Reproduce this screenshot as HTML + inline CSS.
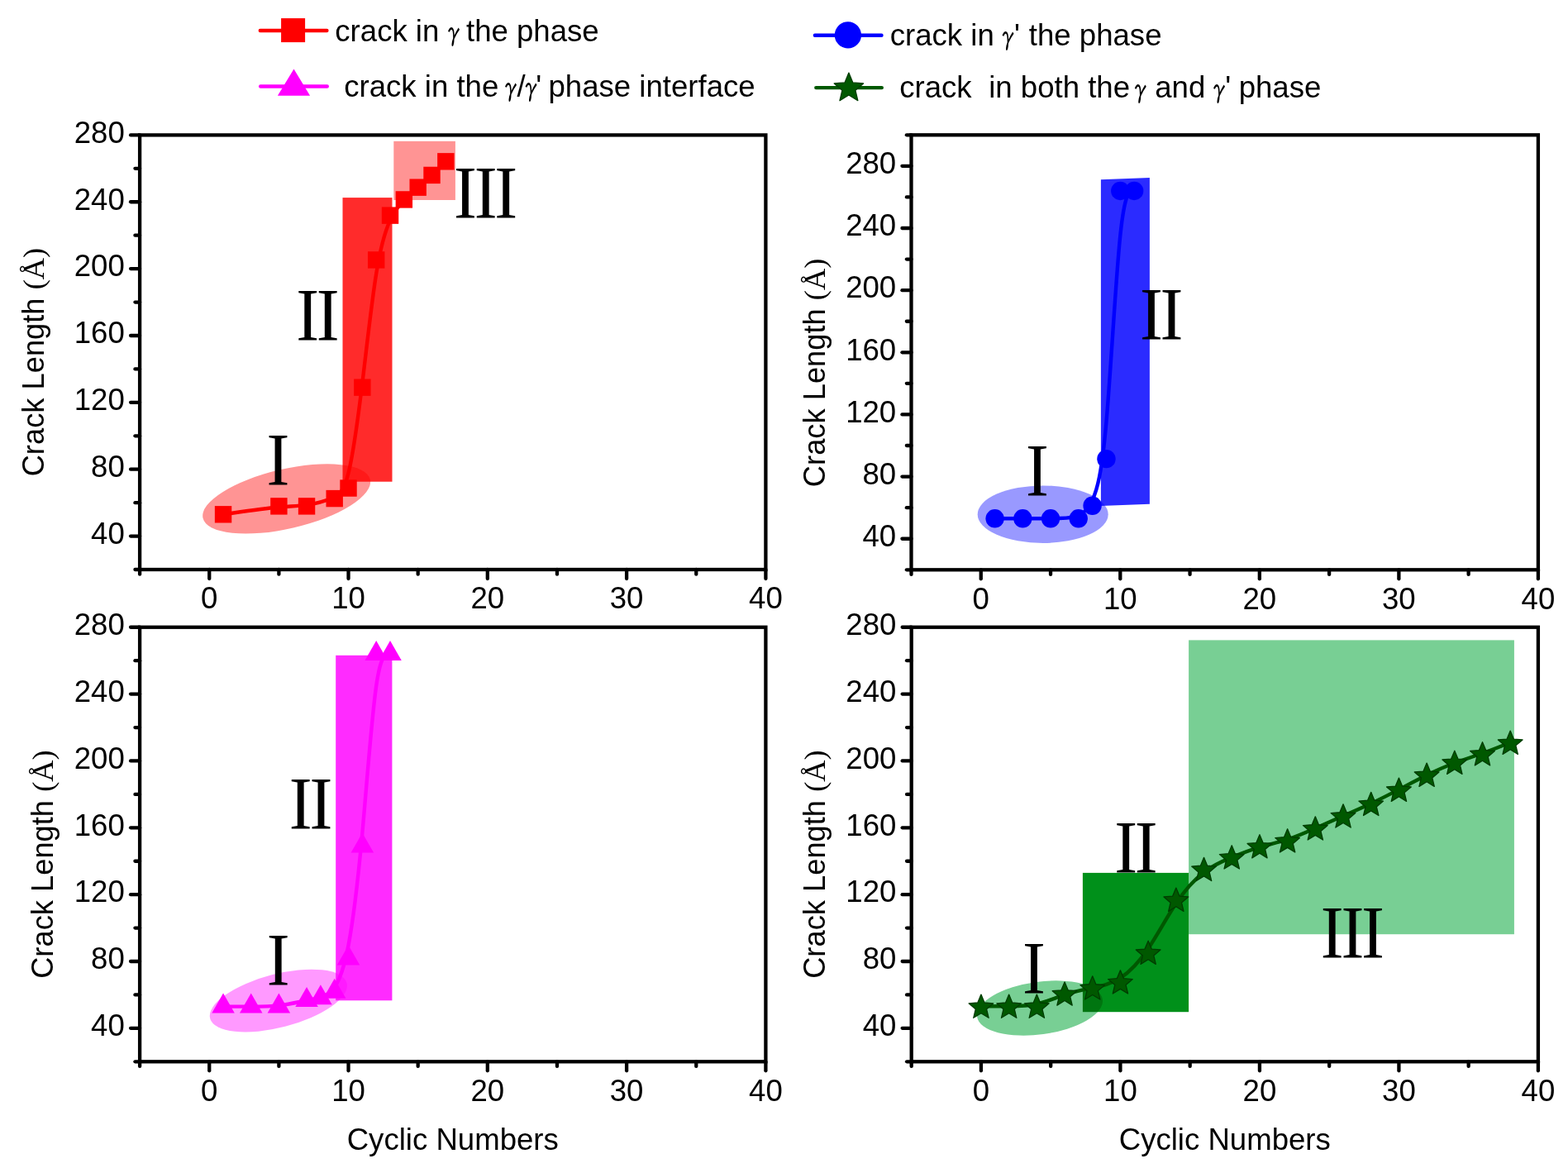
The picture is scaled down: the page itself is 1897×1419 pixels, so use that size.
<!DOCTYPE html>
<html><head><meta charset="utf-8"><title>Crack length vs cyclic numbers</title><style>html,body{margin:0;padding:0;background:#fff;}svg{display:block;}</style></head><body>
<svg width="1897" height="1419" viewBox="0 0 1897 1419">
<rect width="1897" height="1419" fill="#fff"/>
<g>
<ellipse cx="346.65" cy="603.45" rx="103.8" ry="36.0" transform="rotate(-13 346.65 603.45)" fill="#ff0000" fill-opacity="0.42" style="mix-blend-mode:multiply"/>
<rect x="414.5" y="239.1" width="60" height="343.6" fill="#ff0000" fill-opacity="0.83"/>
<rect x="476.3" y="170.8" width="74.6" height="71.2" fill="#ff0000" fill-opacity="0.42"/>
<path d="M270.07,622.29 C292.51,618.99 314.95,615.69 331.78,614.03 C348.61,612.38 359.83,612.38 371.05,610.83 C382.27,609.28 393.49,606.18 401.90,602.55 C410.31,598.91 415.92,594.73 421.53,572.32 C427.14,549.92 432.75,509.29 438.36,463.26 C443.97,417.24 449.58,365.82 455.19,331.15 C460.80,296.48 466.41,278.56 472.02,266.40 C477.63,254.23 483.24,247.83 488.85,242.17 C494.46,236.51 500.07,231.59 505.68,226.67 C511.29,221.76 516.90,216.84 522.51,211.61 C528.12,206.39 533.73,200.87 539.34,195.34" fill="none" stroke="#ff0000" stroke-width="4.4"/>
<rect x="259.87" y="612.09" width="20.40" height="20.40" fill="#ff0000"/>
<rect x="327.19" y="602.18" width="20.40" height="20.40" fill="#ff0000"/>
<rect x="360.85" y="602.18" width="20.40" height="20.40" fill="#ff0000"/>
<rect x="394.50" y="592.88" width="20.40" height="20.40" fill="#ff0000"/>
<rect x="411.33" y="580.35" width="20.40" height="20.40" fill="#ff0000"/>
<rect x="428.16" y="458.45" width="20.40" height="20.40" fill="#ff0000"/>
<rect x="444.99" y="304.21" width="20.40" height="20.40" fill="#ff0000"/>
<rect x="461.82" y="250.44" width="20.40" height="20.40" fill="#ff0000"/>
<rect x="478.65" y="231.23" width="20.40" height="20.40" fill="#ff0000"/>
<rect x="495.48" y="216.47" width="20.40" height="20.40" fill="#ff0000"/>
<rect x="512.31" y="201.72" width="20.40" height="20.40" fill="#ff0000"/>
<rect x="529.14" y="185.14" width="20.40" height="20.40" fill="#ff0000"/>
<text transform="translate(549.09,263.50) scale(0.93,1)" font-family='"Liberation Serif", "Times New Roman", serif' font-size="90.0" letter-spacing="-3.5" fill="#000">III</text>
<text transform="translate(358.19,411.80) scale(0.93,1)" font-family='"Liberation Serif", "Times New Roman", serif' font-size="90.0" letter-spacing="-3.5" fill="#000">II</text>
<text transform="translate(322.49,587.30) scale(0.93,1)" font-family='"Liberation Serif", "Times New Roman", serif' font-size="90.0" letter-spacing="-3.5" fill="#000">I</text>
</g>
<ellipse cx="1261.7" cy="622.2" rx="79" ry="34.8" fill="#0000ff" fill-opacity="0.40" style="mix-blend-mode:multiply"/>
<polygon points="1331.9,217.3 1390.9,215.1 1390.9,609.7 1331.9,612.1" fill="#0000ff" fill-opacity="0.83"/>
<path d="M1203.62,627.31 C1214.86,627.31 1226.09,627.31 1237.33,627.31 C1248.56,627.31 1259.80,627.31 1271.03,627.31 C1282.27,627.31 1293.50,627.31 1301.93,624.71 C1310.36,622.11 1315.98,616.91 1321.59,604.89 C1327.21,592.87 1332.83,574.02 1338.45,510.55 C1344.06,447.09 1349.68,339.01 1355.30,284.97 C1360.92,230.93 1366.54,230.93 1372.15,230.93" fill="none" stroke="#0000ff" stroke-width="4.4"/>
<circle cx="1203.62" cy="627.31" r="11.20" fill="#0000ff"/>
<circle cx="1237.33" cy="627.31" r="11.20" fill="#0000ff"/>
<circle cx="1271.03" cy="627.31" r="11.20" fill="#0000ff"/>
<circle cx="1304.74" cy="627.31" r="11.20" fill="#0000ff"/>
<circle cx="1321.59" cy="611.71" r="11.20" fill="#0000ff"/>
<circle cx="1338.45" cy="555.17" r="11.20" fill="#0000ff"/>
<circle cx="1355.30" cy="230.93" r="11.20" fill="#0000ff"/>
<circle cx="1372.15" cy="230.93" r="11.20" fill="#0000ff"/>
<text transform="translate(1378.89,411.30) scale(0.93,1)" font-family='"Liberation Serif", "Times New Roman", serif' font-size="90.0" letter-spacing="-3.5" fill="#000">II</text>
<text transform="translate(1240.99,600.00) scale(0.93,1)" font-family='"Liberation Serif", "Times New Roman", serif' font-size="90.0" letter-spacing="-3.5" fill="#000">I</text>
<text transform="translate(349.79,1003.20) scale(0.93,1)" font-family='"Liberation Serif", "Times New Roman", serif' font-size="90.0" letter-spacing="-3.5" fill="#000">II</text>
<text transform="translate(322.69,1191.80) scale(0.93,1)" font-family='"Liberation Serif", "Times New Roman", serif' font-size="90.0" letter-spacing="-3.5" fill="#000">I</text>
<rect x="406.2" y="792.8" width="68.2" height="417.5" fill="#ff00ff" fill-opacity="0.83"/>
<path d="M270.07,1217.60 C281.29,1217.60 292.51,1217.60 303.73,1217.60 C314.95,1217.60 326.17,1217.60 337.39,1216.32 C348.61,1215.04 359.83,1212.47 368.24,1210.76 C376.66,1209.04 382.27,1208.16 387.88,1206.48 C393.49,1204.79 399.09,1202.30 404.70,1194.32 C410.31,1186.33 415.92,1172.86 421.53,1143.48 C427.14,1114.10 432.75,1068.82 438.36,1007.44 C443.97,946.06 449.58,868.58 455.19,829.83 C460.80,791.09 466.41,791.09 472.02,791.09" fill="none" stroke="#ff00ff" stroke-width="4.4"/>
<polygon points="270.07,1201.60 283.82,1225.60 256.32,1225.60" fill="#ff00ff"/>
<polygon points="303.73,1201.60 317.48,1225.60 289.98,1225.60" fill="#ff00ff"/>
<polygon points="337.39,1201.60 351.14,1225.60 323.64,1225.60" fill="#ff00ff"/>
<polygon points="371.05,1193.91 384.80,1217.91 357.30,1217.91" fill="#ff00ff"/>
<polygon points="387.88,1191.29 401.63,1215.29 374.13,1215.29" fill="#ff00ff"/>
<polygon points="404.70,1183.81 418.45,1207.81 390.95,1207.81" fill="#ff00ff"/>
<polygon points="421.53,1143.38 435.28,1167.38 407.78,1167.38" fill="#ff00ff"/>
<polygon points="438.36,1007.55 452.11,1031.55 424.61,1031.55" fill="#ff00ff"/>
<polygon points="455.19,775.09 468.94,799.09 441.44,799.09" fill="#ff00ff"/>
<polygon points="472.02,775.09 485.77,799.09 458.27,799.09" fill="#ff00ff"/>
<ellipse cx="336.85" cy="1210.6" rx="85.4" ry="32.3" transform="rotate(-14.5 336.85 1210.6)" fill="#ff00ff" fill-opacity="0.40" style="mix-blend-mode:multiply"/>
<rect x="1438.1" y="774.4" width="393.8" height="355.8" fill="#78cf94"/>
<rect x="1309.9" y="1055.9" width="128.2" height="168.3" fill="#00901a"/>
<ellipse cx="1258" cy="1219.5" rx="76.6" ry="31.8" transform="rotate(-7.8 1258 1219.5)" fill="#78cf94" style="mix-blend-mode:multiply"/>
<path d="M1186.94,1217.19 C1198.18,1217.19 1209.41,1217.19 1220.64,1217.19 C1231.87,1217.19 1243.11,1217.19 1254.34,1214.66 C1265.57,1212.14 1276.81,1207.08 1288.04,1203.38 C1299.27,1199.67 1310.50,1197.31 1321.74,1194.96 C1332.97,1192.60 1344.20,1190.24 1355.43,1183.13 C1366.67,1176.02 1377.90,1164.16 1389.13,1147.56 C1400.36,1130.95 1411.60,1109.59 1422.83,1092.78 C1434.06,1075.97 1445.29,1063.70 1456.53,1055.15 C1467.76,1046.59 1478.99,1041.74 1490.22,1037.12 C1501.46,1032.51 1512.69,1028.13 1523.92,1024.79 C1535.15,1021.46 1546.39,1019.17 1557.62,1015.53 C1568.85,1011.89 1580.09,1006.90 1591.32,1001.92 C1602.55,996.93 1613.78,991.95 1625.02,987.03 C1636.25,982.11 1647.48,977.26 1658.71,971.97 C1669.95,966.68 1681.18,960.95 1692.41,955.09 C1703.64,949.23 1714.88,943.23 1726.11,937.74 C1737.34,932.25 1748.57,927.26 1759.81,923.02 C1771.04,918.77 1782.27,915.27 1793.50,911.26 C1804.74,907.25 1815.97,902.74 1827.20,898.22" fill="none" stroke="#005800" stroke-width="4.4"/>
<polygon points="1186.94,1203.08 1191.07,1213.00 1201.78,1213.86 1193.62,1220.85 1196.11,1231.30 1186.94,1225.70 1177.77,1231.30 1180.27,1220.85 1172.11,1213.86 1182.82,1213.00" fill="#005800" stroke="#003c00" stroke-width="1.3" stroke-linejoin="round"/>
<polygon points="1220.64,1203.08 1224.77,1213.00 1235.48,1213.86 1227.32,1220.85 1229.81,1231.30 1220.64,1225.70 1211.47,1231.30 1213.97,1220.85 1205.81,1213.86 1216.52,1213.00" fill="#005800" stroke="#003c00" stroke-width="1.3" stroke-linejoin="round"/>
<polygon points="1254.34,1203.08 1258.47,1213.00 1269.18,1213.86 1261.02,1220.85 1263.51,1231.30 1254.34,1225.70 1245.17,1231.30 1247.66,1220.85 1239.50,1213.86 1250.21,1213.00" fill="#005800" stroke="#003c00" stroke-width="1.3" stroke-linejoin="round"/>
<polygon points="1288.04,1187.92 1292.16,1197.84 1302.87,1198.70 1294.71,1205.69 1297.21,1216.14 1288.04,1210.54 1278.87,1216.14 1281.36,1205.69 1273.20,1198.70 1283.91,1197.84" fill="#005800" stroke="#003c00" stroke-width="1.3" stroke-linejoin="round"/>
<polygon points="1321.74,1180.85 1325.86,1190.77 1336.57,1191.63 1328.41,1198.62 1330.91,1209.07 1321.74,1203.47 1312.57,1209.07 1315.06,1198.62 1306.90,1191.63 1317.61,1190.77" fill="#005800" stroke="#003c00" stroke-width="1.3" stroke-linejoin="round"/>
<polygon points="1355.43,1173.77 1359.56,1183.69 1370.27,1184.55 1362.11,1191.54 1364.60,1201.99 1355.43,1196.39 1346.26,1201.99 1348.76,1191.54 1340.60,1184.55 1351.31,1183.69" fill="#005800" stroke="#003c00" stroke-width="1.3" stroke-linejoin="round"/>
<polygon points="1389.13,1138.20 1393.26,1148.12 1403.97,1148.98 1395.81,1155.97 1398.30,1166.42 1389.13,1160.82 1379.96,1166.42 1382.45,1155.97 1374.29,1148.98 1385.00,1148.12" fill="#005800" stroke="#003c00" stroke-width="1.3" stroke-linejoin="round"/>
<polygon points="1422.83,1074.12 1426.96,1084.04 1437.67,1084.90 1429.51,1091.89 1432.00,1102.34 1422.83,1096.74 1413.66,1102.34 1416.15,1091.89 1407.99,1084.90 1418.70,1084.04" fill="#005800" stroke="#003c00" stroke-width="1.3" stroke-linejoin="round"/>
<polygon points="1456.53,1037.33 1460.65,1047.25 1471.36,1048.11 1463.20,1055.10 1465.70,1065.55 1456.53,1059.95 1447.36,1065.55 1449.85,1055.10 1441.69,1048.11 1452.40,1047.25" fill="#005800" stroke="#003c00" stroke-width="1.3" stroke-linejoin="round"/>
<polygon points="1490.22,1022.78 1494.35,1032.70 1505.06,1033.56 1496.90,1040.55 1499.39,1051.00 1490.22,1045.40 1481.05,1051.00 1483.55,1040.55 1475.39,1033.56 1486.10,1032.70" fill="#005800" stroke="#003c00" stroke-width="1.3" stroke-linejoin="round"/>
<polygon points="1523.92,1009.64 1528.05,1019.56 1538.76,1020.42 1530.60,1027.41 1533.09,1037.86 1523.92,1032.26 1514.75,1037.86 1517.25,1027.41 1509.09,1020.42 1519.80,1019.56" fill="#005800" stroke="#003c00" stroke-width="1.3" stroke-linejoin="round"/>
<polygon points="1557.62,1002.77 1561.75,1012.69 1572.46,1013.55 1564.30,1020.54 1566.79,1030.99 1557.62,1025.39 1548.45,1030.99 1550.94,1020.54 1542.78,1013.55 1553.49,1012.69" fill="#005800" stroke="#003c00" stroke-width="1.3" stroke-linejoin="round"/>
<polygon points="1591.32,987.81 1595.44,997.73 1606.15,998.59 1597.99,1005.58 1600.49,1016.03 1591.32,1010.43 1582.15,1016.03 1584.64,1005.58 1576.48,998.59 1587.19,997.73" fill="#005800" stroke="#003c00" stroke-width="1.3" stroke-linejoin="round"/>
<polygon points="1625.02,972.85 1629.14,982.77 1639.85,983.63 1631.69,990.62 1634.19,1001.07 1625.02,995.47 1615.85,1001.07 1618.34,990.62 1610.18,983.63 1620.89,982.77" fill="#005800" stroke="#003c00" stroke-width="1.3" stroke-linejoin="round"/>
<polygon points="1658.71,958.30 1662.84,968.22 1673.55,969.08 1665.39,976.07 1667.88,986.52 1658.71,980.92 1649.54,986.52 1652.04,976.07 1643.88,969.08 1654.59,968.22" fill="#005800" stroke="#003c00" stroke-width="1.3" stroke-linejoin="round"/>
<polygon points="1692.41,941.11 1696.54,951.04 1707.25,951.89 1699.09,958.88 1701.58,969.34 1692.41,963.73 1683.24,969.34 1685.73,958.88 1677.57,951.89 1688.28,951.04" fill="#005800" stroke="#003c00" stroke-width="1.3" stroke-linejoin="round"/>
<polygon points="1726.11,923.12 1730.24,933.05 1740.95,933.90 1732.79,940.89 1735.28,951.35 1726.11,945.74 1716.94,951.35 1719.43,940.89 1711.27,933.90 1721.98,933.05" fill="#005800" stroke="#003c00" stroke-width="1.3" stroke-linejoin="round"/>
<polygon points="1759.81,908.17 1763.93,918.09 1774.64,918.95 1766.48,925.94 1768.98,936.39 1759.81,930.79 1750.64,936.39 1753.13,925.94 1744.97,918.95 1755.68,918.09" fill="#005800" stroke="#003c00" stroke-width="1.3" stroke-linejoin="round"/>
<polygon points="1793.50,897.66 1797.63,907.58 1808.34,908.44 1800.18,915.43 1802.67,925.88 1793.50,920.28 1784.33,925.88 1786.83,915.43 1778.67,908.44 1789.38,907.58" fill="#005800" stroke="#003c00" stroke-width="1.3" stroke-linejoin="round"/>
<polygon points="1827.20,884.11 1831.33,894.03 1842.04,894.89 1833.88,901.88 1836.37,912.33 1827.20,906.73 1818.03,912.33 1820.53,901.88 1812.37,894.89 1823.08,894.03" fill="#005800" stroke="#003c00" stroke-width="1.3" stroke-linejoin="round"/>
<text transform="translate(1348.19,1056.00) scale(0.93,1)" font-family='"Liberation Serif", "Times New Roman", serif' font-size="90.0" letter-spacing="-3.5" fill="#000">II</text>
<text transform="translate(1236.89,1201.60) scale(0.93,1)" font-family='"Liberation Serif", "Times New Roman", serif' font-size="90.0" letter-spacing="-3.5" fill="#000">I</text>
<text transform="translate(1597.79,1159.30) scale(0.93,1)" font-family='"Liberation Serif", "Times New Roman", serif' font-size="90.0" letter-spacing="-3.5" fill="#000">III</text>
<g stroke="#000" stroke-width="4.3" stroke-linecap="round" font-family='"Liberation Sans", Arial, sans-serif' font-size="36.6" fill="#000">
<rect x="169.10" y="163.40" width="757.30" height="525.60" fill="none" stroke="#000" stroke-width="4.3"/>
<line x1="169.10" y1="689.00" x2="163.45" y2="689.00"/>
<line x1="169.10" y1="648.57" x2="158.05" y2="648.57"/>
<text stroke="none" x="150.80" y="657.87" text-anchor="end">40</text>
<line x1="169.10" y1="608.14" x2="163.45" y2="608.14"/>
<line x1="169.10" y1="567.71" x2="158.05" y2="567.71"/>
<text stroke="none" x="150.80" y="577.01" text-anchor="end">80</text>
<line x1="169.10" y1="527.28" x2="163.45" y2="527.28"/>
<line x1="169.10" y1="486.85" x2="158.05" y2="486.85"/>
<text stroke="none" x="150.80" y="496.15" text-anchor="end">120</text>
<line x1="169.10" y1="446.42" x2="163.45" y2="446.42"/>
<line x1="169.10" y1="405.98" x2="158.05" y2="405.98"/>
<text stroke="none" x="150.80" y="415.28" text-anchor="end">160</text>
<line x1="169.10" y1="365.55" x2="163.45" y2="365.55"/>
<line x1="169.10" y1="325.12" x2="158.05" y2="325.12"/>
<text stroke="none" x="150.80" y="334.42" text-anchor="end">200</text>
<line x1="169.10" y1="284.69" x2="163.45" y2="284.69"/>
<line x1="169.10" y1="244.26" x2="158.05" y2="244.26"/>
<text stroke="none" x="150.80" y="253.56" text-anchor="end">240</text>
<line x1="169.10" y1="203.83" x2="163.45" y2="203.83"/>
<line x1="169.10" y1="163.40" x2="158.05" y2="163.40"/>
<text stroke="none" x="150.80" y="172.70" text-anchor="end">280</text>
<line x1="169.10" y1="689.00" x2="169.10" y2="694.65"/>
<line x1="253.24" y1="689.00" x2="253.24" y2="700.05"/>
<text stroke="none" x="253.24" y="736.20" text-anchor="middle">0</text>
<line x1="337.39" y1="689.00" x2="337.39" y2="694.65"/>
<line x1="421.53" y1="689.00" x2="421.53" y2="700.05"/>
<text stroke="none" x="421.53" y="736.20" text-anchor="middle">10</text>
<line x1="505.68" y1="689.00" x2="505.68" y2="694.65"/>
<line x1="589.82" y1="689.00" x2="589.82" y2="700.05"/>
<text stroke="none" x="589.82" y="736.20" text-anchor="middle">20</text>
<line x1="673.97" y1="689.00" x2="673.97" y2="694.65"/>
<line x1="758.11" y1="689.00" x2="758.11" y2="700.05"/>
<text stroke="none" x="758.11" y="736.20" text-anchor="middle">30</text>
<line x1="842.26" y1="689.00" x2="842.26" y2="694.65"/>
<line x1="926.40" y1="689.00" x2="926.40" y2="700.05"/>
<text stroke="none" x="926.40" y="736.20" text-anchor="middle">40</text>
<rect x="1102.50" y="163.30" width="758.40" height="526.00" fill="none" stroke="#000" stroke-width="4.3"/>
<line x1="1102.50" y1="689.30" x2="1096.85" y2="689.30"/>
<line x1="1102.50" y1="651.73" x2="1091.45" y2="651.73"/>
<text stroke="none" x="1084.20" y="661.03" text-anchor="end">40</text>
<line x1="1102.50" y1="614.16" x2="1096.85" y2="614.16"/>
<line x1="1102.50" y1="576.59" x2="1091.45" y2="576.59"/>
<text stroke="none" x="1084.20" y="585.89" text-anchor="end">80</text>
<line x1="1102.50" y1="539.01" x2="1096.85" y2="539.01"/>
<line x1="1102.50" y1="501.44" x2="1091.45" y2="501.44"/>
<text stroke="none" x="1084.20" y="510.74" text-anchor="end">120</text>
<line x1="1102.50" y1="463.87" x2="1096.85" y2="463.87"/>
<line x1="1102.50" y1="426.30" x2="1091.45" y2="426.30"/>
<text stroke="none" x="1084.20" y="435.60" text-anchor="end">160</text>
<line x1="1102.50" y1="388.73" x2="1096.85" y2="388.73"/>
<line x1="1102.50" y1="351.16" x2="1091.45" y2="351.16"/>
<text stroke="none" x="1084.20" y="360.46" text-anchor="end">200</text>
<line x1="1102.50" y1="313.59" x2="1096.85" y2="313.59"/>
<line x1="1102.50" y1="276.01" x2="1091.45" y2="276.01"/>
<text stroke="none" x="1084.20" y="285.31" text-anchor="end">240</text>
<line x1="1102.50" y1="238.44" x2="1096.85" y2="238.44"/>
<line x1="1102.50" y1="200.87" x2="1091.45" y2="200.87"/>
<text stroke="none" x="1084.20" y="210.17" text-anchor="end">280</text>
<line x1="1102.50" y1="163.30" x2="1096.85" y2="163.30"/>
<line x1="1102.50" y1="689.30" x2="1102.50" y2="694.95"/>
<line x1="1186.77" y1="689.30" x2="1186.77" y2="700.35"/>
<text stroke="none" x="1186.77" y="736.50" text-anchor="middle">0</text>
<line x1="1271.03" y1="689.30" x2="1271.03" y2="694.95"/>
<line x1="1355.30" y1="689.30" x2="1355.30" y2="700.35"/>
<text stroke="none" x="1355.30" y="736.50" text-anchor="middle">10</text>
<line x1="1439.57" y1="689.30" x2="1439.57" y2="694.95"/>
<line x1="1523.83" y1="689.30" x2="1523.83" y2="700.35"/>
<text stroke="none" x="1523.83" y="736.50" text-anchor="middle">20</text>
<line x1="1608.10" y1="689.30" x2="1608.10" y2="694.95"/>
<line x1="1692.37" y1="689.30" x2="1692.37" y2="700.35"/>
<text stroke="none" x="1692.37" y="736.50" text-anchor="middle">30</text>
<line x1="1776.63" y1="689.30" x2="1776.63" y2="694.95"/>
<line x1="1860.90" y1="689.30" x2="1860.90" y2="700.35"/>
<text stroke="none" x="1860.90" y="736.50" text-anchor="middle">40</text>
<rect x="169.10" y="758.75" width="757.30" height="525.55" fill="none" stroke="#000" stroke-width="4.3"/>
<line x1="169.10" y1="1284.30" x2="163.45" y2="1284.30"/>
<line x1="169.10" y1="1243.87" x2="158.05" y2="1243.87"/>
<text stroke="none" x="150.80" y="1253.17" text-anchor="end">40</text>
<line x1="169.10" y1="1203.45" x2="163.45" y2="1203.45"/>
<line x1="169.10" y1="1163.02" x2="158.05" y2="1163.02"/>
<text stroke="none" x="150.80" y="1172.32" text-anchor="end">80</text>
<line x1="169.10" y1="1122.59" x2="163.45" y2="1122.59"/>
<line x1="169.10" y1="1082.17" x2="158.05" y2="1082.17"/>
<text stroke="none" x="150.80" y="1091.47" text-anchor="end">120</text>
<line x1="169.10" y1="1041.74" x2="163.45" y2="1041.74"/>
<line x1="169.10" y1="1001.31" x2="158.05" y2="1001.31"/>
<text stroke="none" x="150.80" y="1010.61" text-anchor="end">160</text>
<line x1="169.10" y1="960.88" x2="163.45" y2="960.88"/>
<line x1="169.10" y1="920.46" x2="158.05" y2="920.46"/>
<text stroke="none" x="150.80" y="929.76" text-anchor="end">200</text>
<line x1="169.10" y1="880.03" x2="163.45" y2="880.03"/>
<line x1="169.10" y1="839.60" x2="158.05" y2="839.60"/>
<text stroke="none" x="150.80" y="848.90" text-anchor="end">240</text>
<line x1="169.10" y1="799.18" x2="163.45" y2="799.18"/>
<line x1="169.10" y1="758.75" x2="158.05" y2="758.75"/>
<text stroke="none" x="150.80" y="768.05" text-anchor="end">280</text>
<line x1="169.10" y1="1284.30" x2="169.10" y2="1289.95"/>
<line x1="253.24" y1="1284.30" x2="253.24" y2="1295.35"/>
<text stroke="none" x="253.24" y="1331.50" text-anchor="middle">0</text>
<line x1="337.39" y1="1284.30" x2="337.39" y2="1289.95"/>
<line x1="421.53" y1="1284.30" x2="421.53" y2="1295.35"/>
<text stroke="none" x="421.53" y="1331.50" text-anchor="middle">10</text>
<line x1="505.68" y1="1284.30" x2="505.68" y2="1289.95"/>
<line x1="589.82" y1="1284.30" x2="589.82" y2="1295.35"/>
<text stroke="none" x="589.82" y="1331.50" text-anchor="middle">20</text>
<line x1="673.97" y1="1284.30" x2="673.97" y2="1289.95"/>
<line x1="758.11" y1="1284.30" x2="758.11" y2="1295.35"/>
<text stroke="none" x="758.11" y="1331.50" text-anchor="middle">30</text>
<line x1="842.26" y1="1284.30" x2="842.26" y2="1289.95"/>
<line x1="926.40" y1="1284.30" x2="926.40" y2="1295.35"/>
<text stroke="none" x="926.40" y="1331.50" text-anchor="middle">40</text>
<rect x="1102.70" y="758.75" width="758.20" height="525.55" fill="none" stroke="#000" stroke-width="4.3"/>
<line x1="1102.70" y1="1284.30" x2="1097.05" y2="1284.30"/>
<line x1="1102.70" y1="1243.87" x2="1091.65" y2="1243.87"/>
<text stroke="none" x="1084.40" y="1253.17" text-anchor="end">40</text>
<line x1="1102.70" y1="1203.45" x2="1097.05" y2="1203.45"/>
<line x1="1102.70" y1="1163.02" x2="1091.65" y2="1163.02"/>
<text stroke="none" x="1084.40" y="1172.32" text-anchor="end">80</text>
<line x1="1102.70" y1="1122.59" x2="1097.05" y2="1122.59"/>
<line x1="1102.70" y1="1082.17" x2="1091.65" y2="1082.17"/>
<text stroke="none" x="1084.40" y="1091.47" text-anchor="end">120</text>
<line x1="1102.70" y1="1041.74" x2="1097.05" y2="1041.74"/>
<line x1="1102.70" y1="1001.31" x2="1091.65" y2="1001.31"/>
<text stroke="none" x="1084.40" y="1010.61" text-anchor="end">160</text>
<line x1="1102.70" y1="960.88" x2="1097.05" y2="960.88"/>
<line x1="1102.70" y1="920.46" x2="1091.65" y2="920.46"/>
<text stroke="none" x="1084.40" y="929.76" text-anchor="end">200</text>
<line x1="1102.70" y1="880.03" x2="1097.05" y2="880.03"/>
<line x1="1102.70" y1="839.60" x2="1091.65" y2="839.60"/>
<text stroke="none" x="1084.40" y="848.90" text-anchor="end">240</text>
<line x1="1102.70" y1="799.18" x2="1097.05" y2="799.18"/>
<line x1="1102.70" y1="758.75" x2="1091.65" y2="758.75"/>
<text stroke="none" x="1084.40" y="768.05" text-anchor="end">280</text>
<line x1="1102.70" y1="1284.30" x2="1102.70" y2="1289.95"/>
<line x1="1186.94" y1="1284.30" x2="1186.94" y2="1295.35"/>
<text stroke="none" x="1186.94" y="1331.50" text-anchor="middle">0</text>
<line x1="1271.19" y1="1284.30" x2="1271.19" y2="1289.95"/>
<line x1="1355.43" y1="1284.30" x2="1355.43" y2="1295.35"/>
<text stroke="none" x="1355.43" y="1331.50" text-anchor="middle">10</text>
<line x1="1439.68" y1="1284.30" x2="1439.68" y2="1289.95"/>
<line x1="1523.92" y1="1284.30" x2="1523.92" y2="1295.35"/>
<text stroke="none" x="1523.92" y="1331.50" text-anchor="middle">20</text>
<line x1="1608.17" y1="1284.30" x2="1608.17" y2="1289.95"/>
<line x1="1692.41" y1="1284.30" x2="1692.41" y2="1295.35"/>
<text stroke="none" x="1692.41" y="1331.50" text-anchor="middle">30</text>
<line x1="1776.66" y1="1284.30" x2="1776.66" y2="1289.95"/>
<line x1="1860.90" y1="1284.30" x2="1860.90" y2="1295.35"/>
<text stroke="none" x="1860.90" y="1331.50" text-anchor="middle">40</text>
</g>
<g font-family='"Liberation Sans", Arial, sans-serif' font-size="36.6" fill="#000">
<text transform="translate(53.00,576.35) rotate(-90)" font-size="36.3">Crack Length <tspan font-family='"Liberation Serif", "Times New Roman", serif'>(Å)</tspan></text>
<text transform="translate(997.60,589.15) rotate(-90)" font-size="36.3">Crack Length <tspan font-family='"Liberation Serif", "Times New Roman", serif'>(Å)</tspan></text>
<text transform="translate(63.90,1183.85) rotate(-90)" font-size="36.3">Crack Length <tspan font-family='"Liberation Serif", "Times New Roman", serif'>(Å)</tspan></text>
<text transform="translate(997.80,1183.85) rotate(-90)" font-size="36.3">Crack Length <tspan font-family='"Liberation Serif", "Times New Roman", serif'>(Å)</tspan></text>
<text x="547.75" y="1391.2" text-anchor="middle">Cyclic Numbers</text>
<text x="1481.80" y="1391.2" text-anchor="middle">Cyclic Numbers</text>
</g>
<g font-family='"Liberation Sans", Arial, sans-serif' font-size="36.6" fill="#000">
<line x1="314.8" y1="37" x2="395.4" y2="37" stroke="#ff0000" stroke-width="4.4" stroke-linecap="round"/>
<rect x="340.10" y="22.10" width="29.00" height="29.00" fill="#ff0000"/>
<text x="405.32" y="49.60" xml:space="preserve">crack in</text>
<text transform="translate(537.14,52.90) scale(0.648,1)" font-family='IPAGothic, "Liberation Serif", serif' font-size="36.4">γ</text>
<text x="564.01" y="49.60" xml:space="preserve">the phase</text>
<line x1="985.9" y1="42.7" x2="1066.5" y2="42.7" stroke="#0000ff" stroke-width="4.4" stroke-linecap="round"/>
<circle cx="1025.90" cy="42.40" r="16.10" fill="#0000ff"/>
<text x="1076.72" y="55.00" xml:space="preserve">crack in</text>
<text transform="translate(1207.84,58.30) scale(0.648,1)" font-family='IPAGothic, "Liberation Serif", serif' font-size="36.4">γ</text>
<text x="1226.92" y="55.00" xml:space="preserve">'</text>
<text x="1244.81" y="55.00" xml:space="preserve">the phase</text>
<line x1="315.2" y1="104.5" x2="395.8" y2="104.5" stroke="#ff00ff" stroke-width="4.4" stroke-linecap="round"/>
<polygon points="355.50,83.47 375.10,115.77 335.90,115.77" fill="#ff00ff"/>
<text x="416.22" y="116.80" xml:space="preserve">crack in the</text>
<text transform="translate(606.34,120.10) scale(0.648,1)" font-family='IPAGothic, "Liberation Serif", serif' font-size="36.4">γ</text>
<text x="625.40" y="116.80" xml:space="preserve">/</text>
<text transform="translate(630.64,120.10) scale(0.648,1)" font-family='IPAGothic, "Liberation Serif", serif' font-size="36.4">γ</text>
<text x="648.22" y="116.80" xml:space="preserve">'</text>
<text x="663.53" y="116.80" xml:space="preserve">phase interface</text>
<line x1="987.3" y1="106.1" x2="1066.8" y2="106.1" stroke="#005800" stroke-width="4.4" stroke-linecap="round"/>
<polygon points="1026.90,88.08 1031.82,99.90 1044.59,100.93 1034.86,109.26 1037.83,121.72 1026.90,115.05 1015.97,121.72 1018.94,109.26 1009.21,100.93 1021.98,99.90" fill="#005800" stroke="#003c00" stroke-width="1.3" stroke-linejoin="round"/>
<text x="1088.22" y="118.40" xml:space="preserve">crack</text>
<text x="1196.23" y="118.40" xml:space="preserve">in both the</text>
<text transform="translate(1368.04,121.70) scale(0.648,1)" font-family='IPAGothic, "Liberation Serif", serif' font-size="36.4">γ</text>
<text x="1397.22" y="118.40" xml:space="preserve">and</text>
<text transform="translate(1463.34,121.70) scale(0.648,1)" font-family='IPAGothic, "Liberation Serif", serif' font-size="36.4">γ</text>
<text x="1482.22" y="118.40" xml:space="preserve">'</text>
<text x="1498.63" y="118.40" xml:space="preserve">phase</text>
</g>
</svg>
</body></html>
